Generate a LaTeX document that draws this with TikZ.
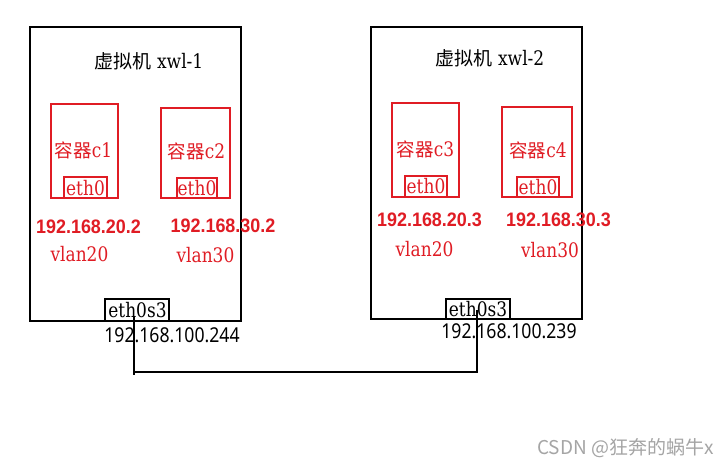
\documentclass[tikz,border=0pt]{standalone}
\usepackage{fontspec}
\setmainfont[FakeStretch=0.85]{DejaVu Serif}
\setsansfont[FakeStretch=0.86]{Noto Sans}
\newfontfamily\ipfont[FakeStretch=0.92]{Liberation Sans}
\newfontfamily\cjk{Noto Sans CJK SC}
\definecolor{rd}{RGB}{224,28,36}
\definecolor{wm}{RGB}{165,165,165}
\begin{document}
\begin{tikzpicture}[x=1pt,y=-1pt,
  vm/.style={draw=black,line width=1.8pt},
  ctr/.style={draw=rd,line width=1.8pt},
  ethbox/.style={draw=rd,line width=1.8pt},
  lab/.style={anchor=base,inner sep=0pt},
  title/.style={lab,font=\fontsize{20}{24}\selectfont},
  ctrlab/.style={lab,text=rd,font=\fontsize{20}{24}\selectfont},
  ethlab/.style={lab,text=rd,font=\fontsize{20}{24}\selectfont},
  iplab/.style={lab,text=rd,font=\ipfont\bfseries\fontsize{19.5}{24}\selectfont},
  vlanlab/.style={lab,text=rd,font=\fontsize{20}{24}\selectfont},
  niclab/.style={lab,font=\fontsize{20}{24}\selectfont},
  hostip/.style={lab,font=\sffamily\fontsize{20.5}{24}\selectfont},
  link/.style={draw=black,line width=1.8pt}]
\useasboundingbox (0,0) rectangle (728,469);
\fill[white] (0,0) rectangle (728,469);
% VM boxes
\draw[vm] (30,27) rectangle (241,321);
\draw[vm] (371,27) rectangle (582,319);
\node[title] (t1) at (149,68) {{\cjk\fontsize{19}{22}\selectfont 虚拟机} xwl-1};
\node[title] (t2) at (490,65) {{\cjk\fontsize{19}{22}\selectfont 虚拟机} xwl-2};
% containers
\draw[ctr] (51,104) rectangle (118,198);
\draw[ctr] (161,108) rectangle (230,198);
\draw[ctr] (392,103) rectangle (459,197);
\draw[ctr] (502,107) rectangle (572,197);
\node[ctrlab] (c1) at (83.5,157) {{\cjk\fontsize{18.5}{22}\selectfont 容器}c1};
\node[ctrlab] (c2) at (196.5,158) {{\cjk\fontsize{18.5}{22}\selectfont 容器}c2};
\node[ctrlab] (c3) at (425.5,156) {{\cjk\fontsize{18.5}{22}\selectfont 容器}c3};
\node[ctrlab] (c4) at (538,157) {{\cjk\fontsize{18.5}{22}\selectfont 容器}c4};
% eth0 boxes
\draw[ethbox] (64,177) rectangle (107,198);
\draw[ethbox] (177,178) rectangle (217,198);
\draw[ethbox] (405,176) rectangle (447,197);
\draw[ethbox] (517,177) rectangle (559,197);
\node[ethlab] (e1) at (85.5,195) {eth0};
\node[ethlab] (e2) at (197,195) {eth0};
\node[ethlab] (e3) at (426,193) {eth0};
\node[ethlab] (e4) at (538,194) {eth0};
% IPs and vlans
\node[iplab] (ip1) at (88.5,233) {192.168.20.2};
\node[iplab] (ip2) at (223,232) {192.168.30.2};
\node[iplab] (ip3) at (429.5,226) {192.168.20.3};
\node[iplab] (ip4) at (558.5,226) {192.168.30.3};
\node[vlanlab] (v1) at (79.5,261) {vlan20};
\node[vlanlab] (v2) at (205.5,262) {vlan30};
\node[vlanlab] (v3) at (424.5,256) {vlan20};
\node[vlanlab] (v4) at (550,257) {vlan30};
% host NICs
\draw[vm] (105,299) rectangle (169,321);
\draw[vm] (446,299) rectangle (510,319);
\node[niclab] (n1) at (137.5,317) {eth0s3};
\node[niclab] (n2) at (478,316) {eth0s3};
\node[hostip] (h1) at (172,342) {192.168.100.244};
\node[hostip] (h2) at (509,338) {192.168.100.239};
% link
\coordinate (a) at (134,316);
\coordinate (b) at (477,310);
\draw[link] (a) -- (134,375);
\draw[link] (134,372) -- (477,372) -- (b);
% watermark
\node[text=wm,font=\cjk\fontsize{19}{22}\selectfont,anchor=east,inner sep=0pt] (wmk) at (714,448) {CSDN @狂奔的蜗牛x};
\end{tikzpicture}
\end{document}
